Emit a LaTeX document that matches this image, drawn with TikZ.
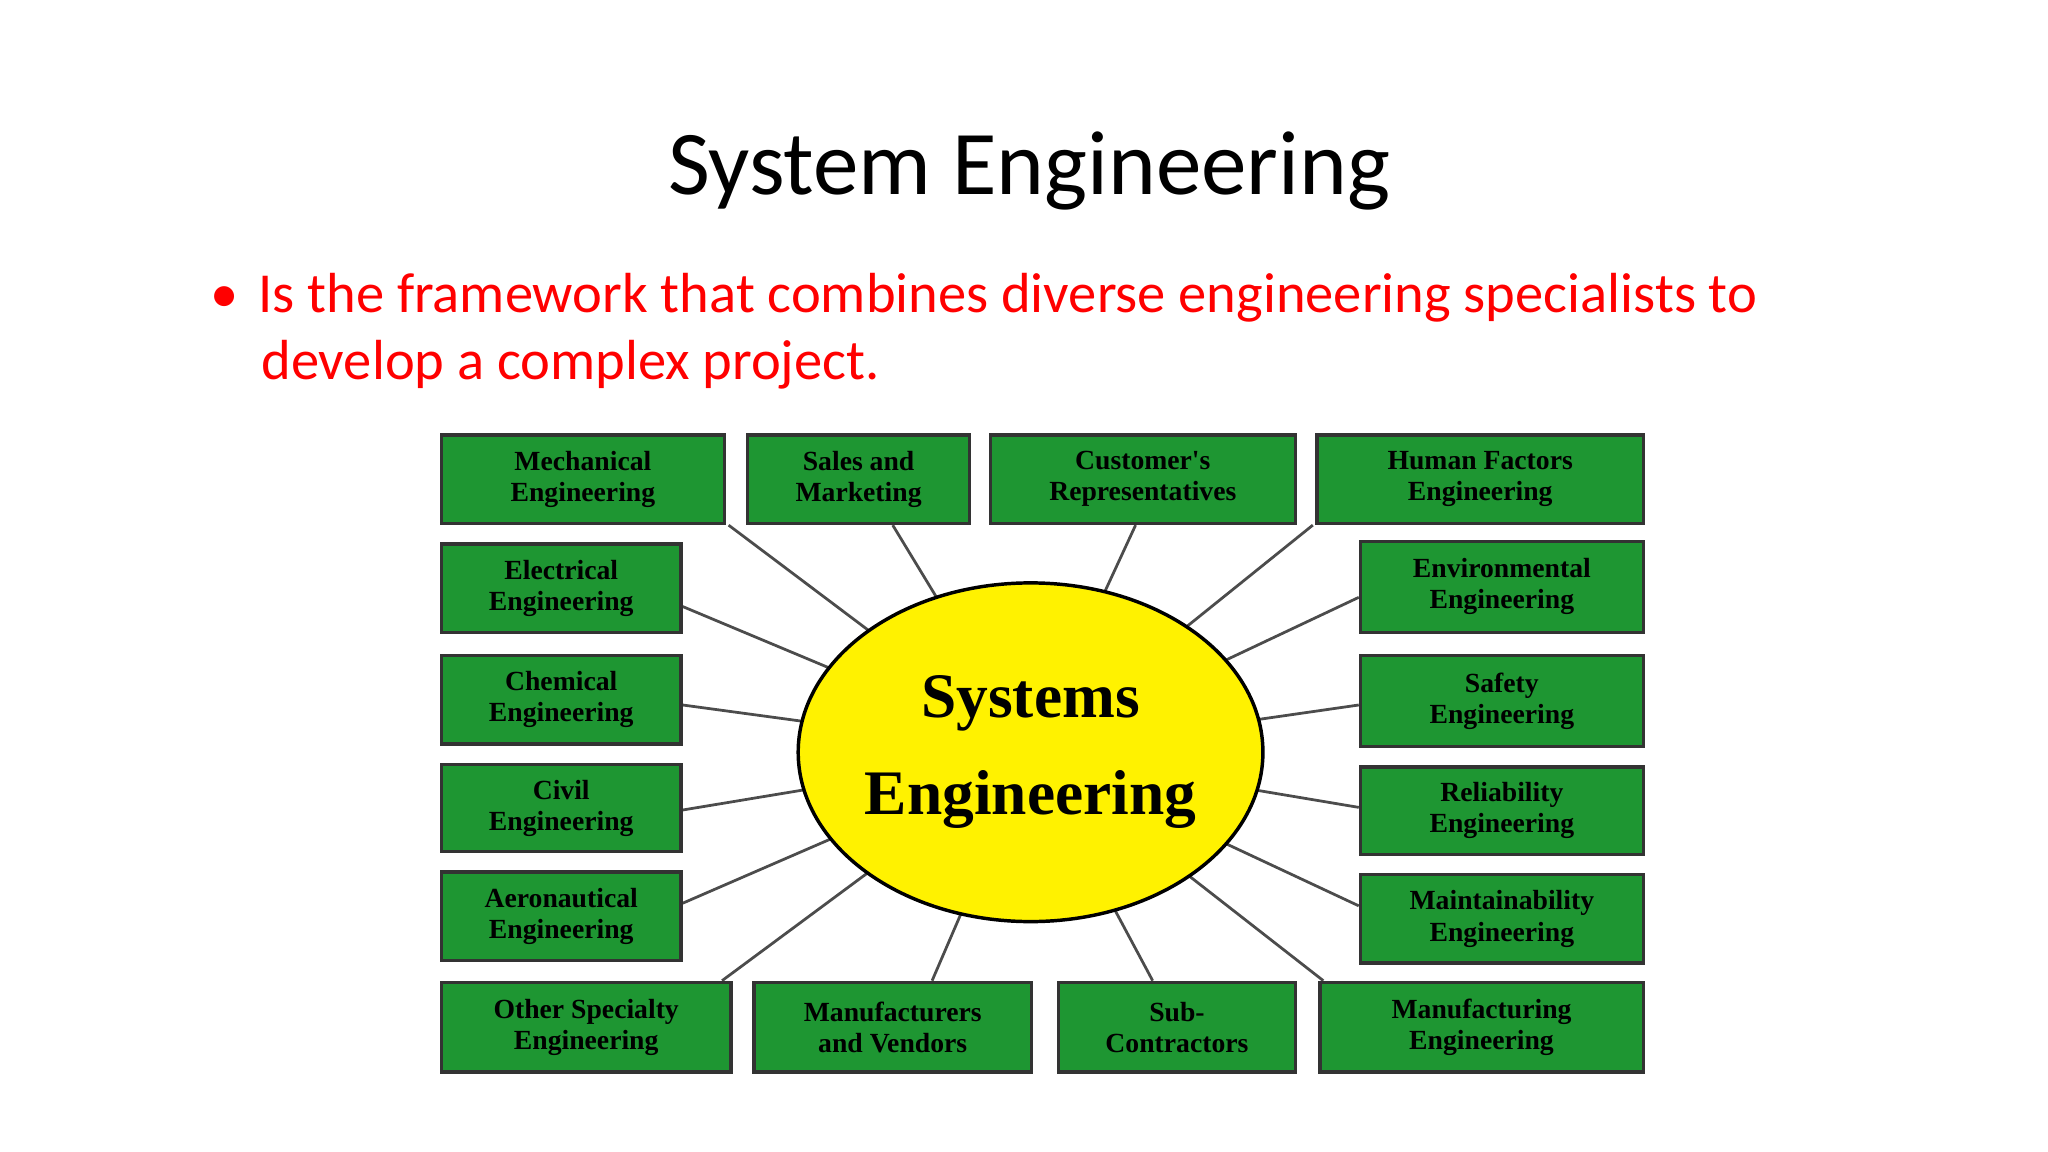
\documentclass[tikz,border=0pt]{standalone}
\usepackage{fontspec}
\setmainfont{Carlito}
\newfontfamily\boxfont{Liberation Serif}
\begin{document}
\begin{tikzpicture}[x=0.02cm,y=-0.02cm,
  bx/.style={draw=black!80,line width=1.5pt,fill={rgb,255:red,30;green,150;blue,50},font=\boxfont\bfseries\fontsize{12}{13.5}\selectfont,align=center,text=black,inner sep=0pt,outer sep=0pt},
  ln/.style={draw=black!70,line width=1.2pt}]
\useasboundingbox (0,0) rectangle (1560,877.5);
\node[font=\fontsize{39.5}{44}\selectfont] (title) at (784,130) {System Engineering};
\node[anchor=north west,text=red,font=\fontsize{24.5}{29}\selectfont,align=left,inner sep=0pt] (bul) at (160,208)
 {\textbullet\hspace{0.35em}Is the framework that combines diverse engineering specialists to\\\hspace{0.9em}develop a complex project.};
\coordinate (c) at (785,573);
\newcommand\bxx[6]{\node[bx,minimum width={(#4-#2)*0.02cm-1.5pt},minimum height={(#5-#3)*0.02cm-1.5pt}] (#1) at ({(#2+#4)/2},{(#3+#5)/2}) {#6};}
\newcommand\lnn[3]{\coordinate (#1p) at (#2,#3); \draw[ln] (#1p) -- (c);}
\lnn{mech}{555}{400}
\lnn{sales}{680}{400}
\lnn{cust}{865}{400}
\lnn{hum}{1000}{400}
\lnn{elec}{520}{462}
\lnn{chem}{520}{537}
\lnn{civ}{520}{617}
\lnn{aero}{520}{688}
\lnn{oth}{550}{747}
\lnn{manv}{710}{747}
\lnn{sub}{878}{747}
\lnn{manf}{1008}{747}
\lnn{env}{1035}{455}
\lnn{saf}{1035}{537}
\lnn{rel}{1035}{615}
\lnn{main}{1035}{690}
\draw[line width=1.5pt,fill=yellow] (c) ellipse [x radius=177, y radius=129];
\node[font=\boxfont\bfseries\fontsize{27.5}{42}\selectfont,align=center] (se) at (785,573) {Systems\\Engineering};
\bxx{mech}{335}{330}{553}{400}{Mechanical\\Engineering}
\bxx{sales}{568}{330}{740}{400}{Sales and\\Marketing}
\bxx{cust}{753}{330}{988}{400}{Customer's\\Representatives}
\bxx{hum}{1002}{330}{1253}{400}{Human Factors\\Engineering}
\bxx{elec}{335}{413}{520}{483}{Electrical\\Engineering}
\bxx{chem}{335}{498}{520}{568}{Chemical\\Engineering}
\bxx{civ}{335}{581}{520}{650}{Civil\\Engineering}
\bxx{aero}{335}{663}{520}{733}{Aeronautical\\Engineering}
\bxx{env}{1035}{411}{1253}{483}{Environmental\\Engineering}
\bxx{saf}{1035}{498}{1253}{570}{Safety\\Engineering}
\bxx{rel}{1035}{583}{1253}{652}{Reliability\\Engineering}
\bxx{main}{1035}{665}{1253}{735}{Maintainability\\Engineering}
\bxx{oth}{335}{747}{558}{818}{Other Specialty\\Engineering}
\bxx{manv}{573}{747}{787}{818}{Manufacturers\\and Vendors}
\bxx{sub}{805}{747}{988}{818}{Sub-\\Contractors}
\bxx{manf}{1004}{747}{1253}{818}{Manufacturing\\Engineering}
\end{tikzpicture}
\end{document}
